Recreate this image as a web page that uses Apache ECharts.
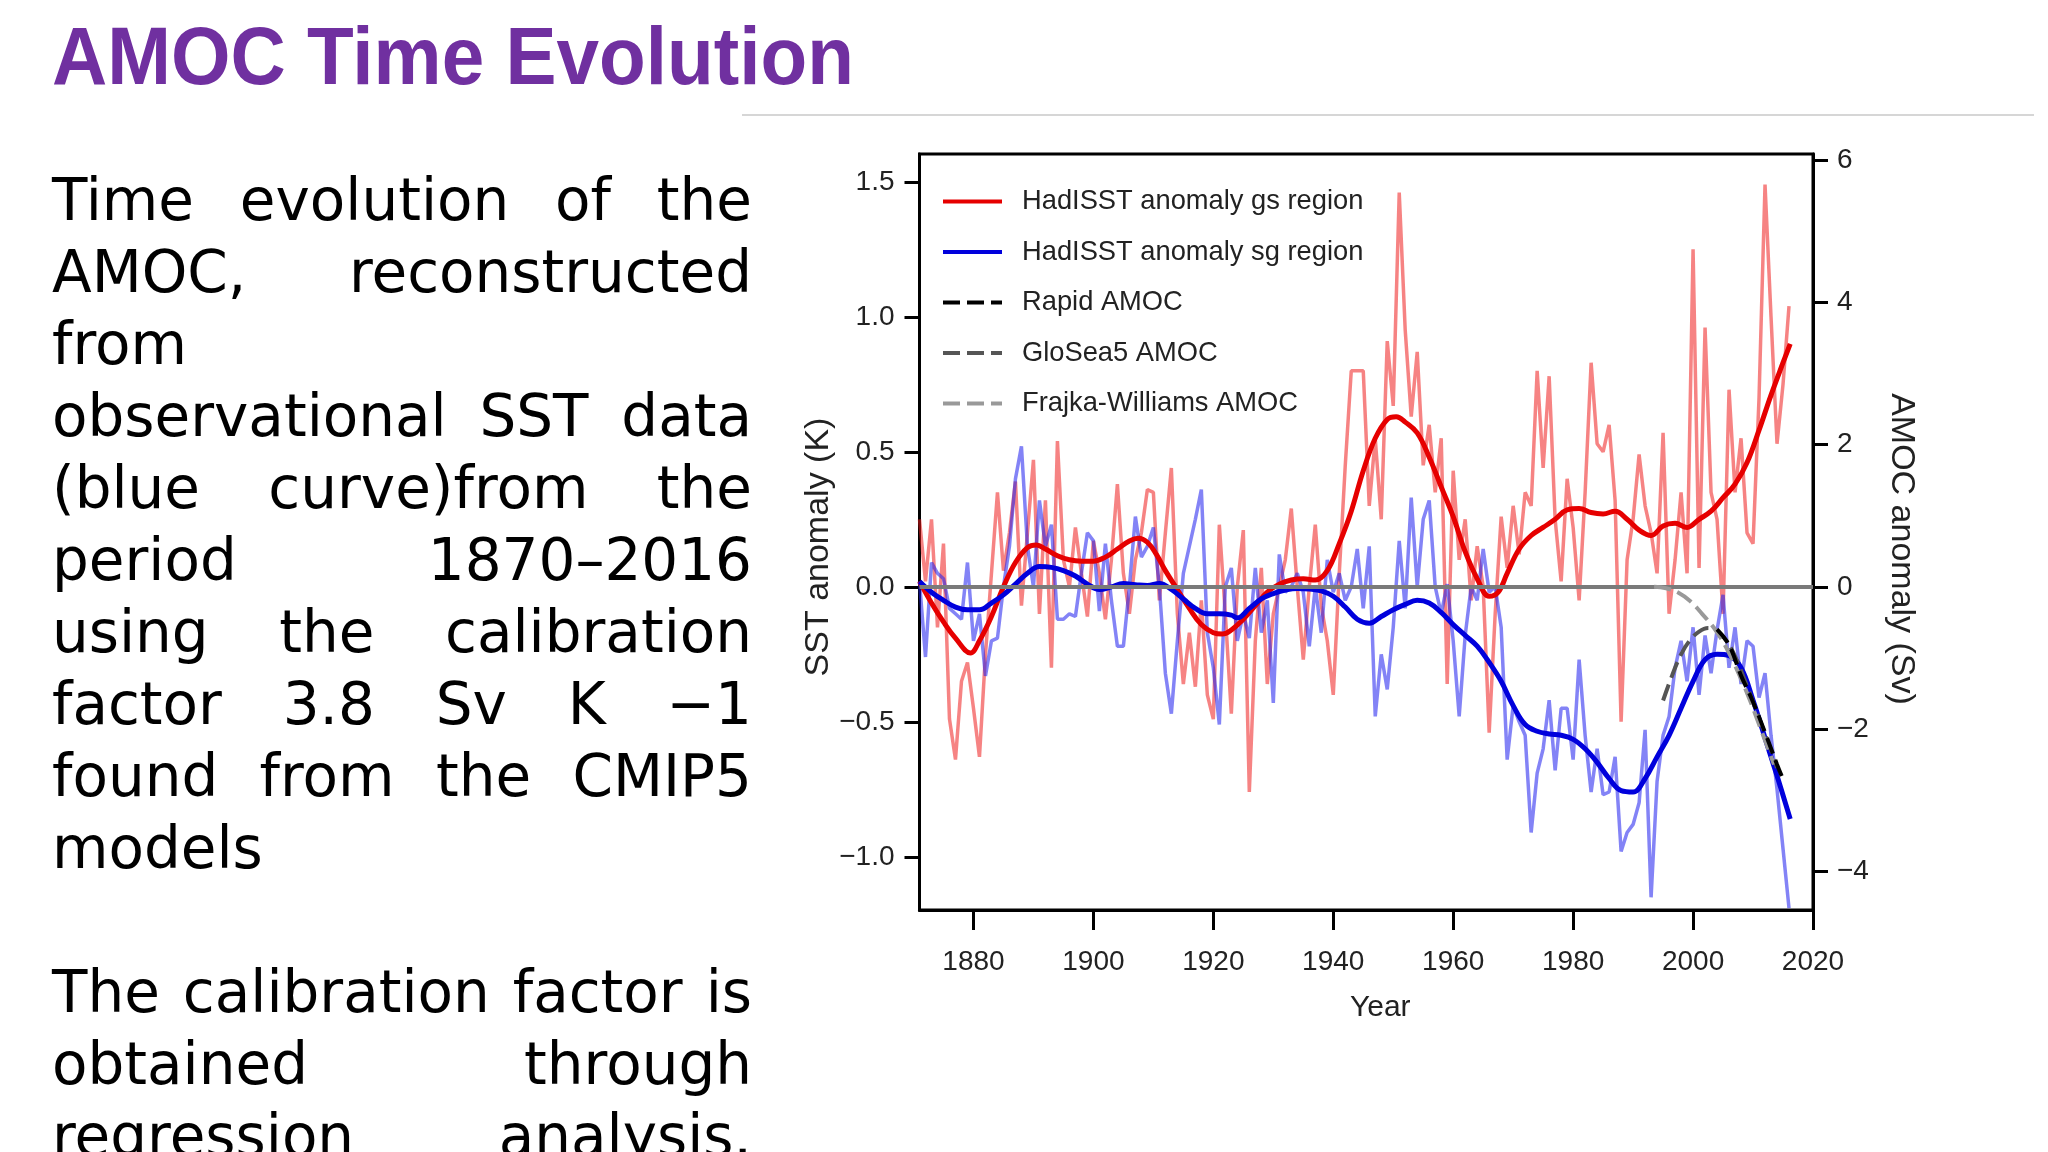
<!DOCTYPE html>
<html>
<head>
<meta charset="utf-8">
<script src="https://cdn.jsdelivr.net/npm/echarts@6/dist/echarts.min.js"></script>
<style>
html,body{margin:0;padding:0;background:#fff;}
#page{position:relative;width:2048px;height:1152px;overflow:hidden;background:#fff;}
#chart{position:absolute;left:0;top:0;width:2048px;height:1152px;}
#title{position:absolute;left:52px;top:15px;font-family:'Liberation Sans',Arial,sans-serif;font-weight:bold;font-size:82px;line-height:82px;color:#7030a0;transform-origin:left top;transform:scaleX(0.933);white-space:nowrap;z-index:2;}
#rule{position:absolute;left:742px;top:114px;width:1292px;height:2px;background:#d6d6d6;z-index:2;}
#text{position:absolute;left:52px;top:164px;width:700px;font-family:'DejaVu Sans',sans-serif;font-size:58px;line-height:72px;color:#000;z-index:2;}
#text div{width:700px;height:72px;}
.j{text-align:justify;text-align-last:justify;}
.l{text-align:left;}
</style>
</head>
<body>
<div id="page">
  <div id="chart"></div>
  <div id="title">AMOC Time Evolution</div>
  <div id="rule"></div>
  <div id="text">
    <div class="j">Time evolution of the</div>
    <div class="j">AMOC, reconstructed</div>
    <div class="l">from</div>
    <div class="j">observational SST data</div>
    <div class="j">(blue curve)from the</div>
    <div class="j">period 1870–2016</div>
    <div class="j">using the calibration</div>
    <div class="j">factor 3.8 Sv K −1</div>
    <div class="j">found from the CMIP5</div>
    <div class="l">models</div>
    <div class="l">&nbsp;</div>
    <div class="j">The calibration factor is</div>
    <div class="j">obtained through</div>
    <div class="j">regression analysis.</div>
  </div>
</div>
<script>
// ---------- data ----------
const years = [1871,1872,1873,1874,1875,1876,1877,1878,1879,1880,
1881,1882,1883,1884,1885,1886,1887,1888,1889,1890,
1891,1892,1893,1894,1895,1896,1897,1898,1899,1900,
1901,1902,1903,1904,1905,1906,1907,1908,1909,1910,
1911,1912,1913,1914,1915,1916,1917,1918,1919,1920,
1921,1922,1923,1924,1925,1926,1927,1928,1929,1930,
1931,1932,1933,1934,1935,1936,1937,1938,1939,1940,
1941,1942,1943,1944,1945,1946,1947,1948,1949,1950,
1951,1952,1953,1954,1955,1956,1957,1958,1959,1960,
1961,1962,1963,1964,1965,1966,1967,1968,1969,1970,
1971,1972,1973,1974,1975,1976,1977,1978,1979,1980,
1981,1982,1983,1984,1985,1986,1987,1988,1989,1990,
1991,1992,1993,1994,1995,1996,1997,1998,1999,2000,
2001,2002,2003,2004,2005,2006,2007,2008,2009,2010,
2011,2012,2013,2014,2015,2016];

// HadISST anomaly, gs region (annual, K)
const gsAnnual = [0.25,0.02,0.25,-0.15,0.16,-0.49,-0.64,-0.35,-0.28,-0.45,
-0.63,-0.25,0.05,0.35,0.06,0.20,0.39,-0.07,0.20,0.47,
-0.10,0.32,-0.30,0.54,0.10,0.00,0.22,0.05,-0.11,0.17,
0.05,-0.12,0.10,0.38,0.05,-0.10,0.10,0.20,0.36,0.35,
-0.05,0.20,0.44,-0.10,-0.36,-0.17,-0.37,-0.05,-0.40,-0.49,
0.23,-0.10,-0.47,0.00,0.21,-0.76,-0.20,0.07,-0.36,-0.10,
0.00,0.10,0.29,0.00,-0.27,0.00,0.23,-0.07,-0.20,-0.40,
0.05,0.45,0.80,0.80,0.80,0.30,0.55,0.25,0.91,0.67,
1.46,0.95,0.63,0.87,0.45,0.60,0.35,0.55,-0.36,0.43,
0.10,0.25,-0.05,0.15,0.00,-0.54,-0.10,0.26,0.07,0.30,
0.12,0.35,0.30,0.80,0.44,0.78,0.25,0.02,0.40,0.22,
-0.05,0.35,0.83,0.53,0.50,0.60,0.32,-0.50,0.10,0.25,
0.49,0.30,0.20,0.05,0.57,-0.10,0.10,0.35,0.05,1.25,
0.07,0.96,0.35,0.25,-0.10,0.73,0.35,0.55,0.20,0.16,
0.70,1.49,1.00,0.53,0.75,1.04];

// HadISST anomaly, sg region (annual, K)
const sgAnnual = [0.02,-0.26,0.09,0.05,0.03,-0.08,-0.10,-0.12,0.09,-0.20,
-0.10,-0.33,-0.20,-0.19,0.00,0.15,0.40,0.52,0.15,0.00,
0.32,0.15,0.23,-0.12,-0.12,-0.10,-0.11,0.05,0.20,0.17,
-0.09,0.16,-0.05,-0.22,-0.22,0.00,0.26,0.11,0.15,0.22,
0.00,-0.32,-0.47,-0.20,0.05,0.15,0.25,0.36,-0.17,-0.30,
-0.51,0.00,0.07,-0.20,-0.10,-0.19,0.07,-0.17,-0.05,-0.43,
0.12,-0.02,0.00,0.05,-0.02,-0.22,0.00,-0.17,0.10,-0.02,
0.05,-0.05,0.00,0.14,-0.08,0.15,-0.48,-0.25,-0.38,-0.15,
0.17,-0.08,0.33,0.00,0.25,0.32,0.00,-0.10,0.01,-0.20,
-0.48,-0.18,0.00,-0.05,0.14,-0.02,0.00,-0.15,-0.64,-0.44,
-0.50,-0.55,-0.91,-0.69,-0.60,-0.42,-0.68,-0.45,-0.45,-0.64,
-0.27,-0.55,-0.76,-0.60,-0.77,-0.76,-0.63,-0.98,-0.91,-0.88,
-0.80,-0.53,-1.15,-0.72,-0.55,-0.48,-0.30,-0.20,-0.35,-0.15,
-0.40,-0.18,-0.32,-0.16,-0.03,-0.30,-0.15,-0.36,-0.20,-0.22,
-0.41,-0.32,-0.55,-0.75,-0.97,-1.19];

// smoothed curves [year, K]
const gsSmooth = [[1871,0.02],[1873,-0.06],[1875,-0.13],[1877,-0.19],[1879.5,-0.245],[1881,-0.2],[1883,-0.11],[1885,0.0],[1887,0.09],[1889,0.145],[1890.5,0.155],[1892,0.14],[1894,0.115],[1896,0.1],[1898,0.095],[1900,0.095],[1902,0.11],[1904,0.14],[1906,0.17],[1907.5,0.18],[1909,0.165],[1910.5,0.12],[1912,0.06],[1914,-0.01],[1916,-0.08],[1918,-0.14],[1920,-0.17],[1921.5,-0.175],[1923,-0.16],[1925,-0.12],[1927,-0.07],[1929,-0.02],[1931,0.01],[1933,0.025],[1935,0.03],[1937,0.025],[1939,0.06],[1941,0.16],[1943,0.28],[1945,0.43],[1947,0.55],[1949,0.62],[1950.5,0.63],[1952,0.61],[1954,0.57],[1956,0.48],[1958,0.37],[1960,0.26],[1962,0.13],[1964,0.03],[1966,-0.035],[1967.5,-0.02],[1969,0.05],[1971,0.14],[1973,0.19],[1975,0.22],[1977,0.25],[1979,0.285],[1981,0.29],[1983,0.275],[1985,0.27],[1987,0.28],[1989,0.25],[1991,0.21],[1993,0.19],[1995,0.225],[1997,0.235],[1999,0.22],[2001,0.25],[2003,0.28],[2005,0.33],[2007,0.38],[2009,0.46],[2011,0.58],[2013,0.71],[2015,0.83],[2016.2,0.9]];

const sgSmooth = [[1871,0.02],[1873,-0.02],[1875,-0.05],[1877,-0.075],[1879,-0.085],[1881,-0.085],[1883,-0.06],[1885,-0.03],[1887,0.01],[1889,0.05],[1891,0.075],[1893,0.072],[1895,0.06],[1897,0.04],[1899,0.01],[1901,-0.01],[1903,0.0],[1905,0.012],[1907,0.008],[1909,0.005],[1911,0.012],[1913,-0.01],[1915,-0.045],[1917,-0.08],[1919,-0.1],[1921,-0.1],[1923,-0.105],[1924,-0.115],[1926,-0.08],[1928,-0.045],[1930,-0.025],[1932,-0.012],[1934,-0.006],[1936,-0.008],[1938,-0.015],[1940,-0.035],[1942,-0.075],[1944,-0.12],[1946,-0.135],[1948,-0.11],[1950,-0.085],[1952,-0.065],[1954,-0.05],[1956,-0.06],[1958,-0.095],[1960,-0.14],[1962,-0.18],[1964,-0.22],[1966,-0.28],[1968,-0.35],[1970,-0.44],[1972,-0.51],[1974,-0.535],[1976,-0.545],[1978,-0.55],[1980,-0.565],[1982,-0.6],[1984,-0.65],[1986,-0.71],[1988,-0.755],[1990,-0.76],[1992,-0.71],[1994,-0.63],[1996,-0.55],[1998,-0.45],[2000,-0.35],[2002,-0.27],[2004,-0.25],[2006,-0.255],[2008,-0.3],[2010,-0.42],[2012,-0.56],[2014,-0.7],[2016.2,-0.86]];

// AMOC estimates [year, Sv]
const rapidAmoc = [[2004,-0.6],[2006,-0.82],[2008,-1.25],[2010,-1.62],[2012,-2.05],[2014,-2.5],[2015.2,-2.75]];
const gloSea5Amoc = [[1995,-1.6],[1996.5,-1.25],[1998,-0.95],[1999.5,-0.75],[2001,-0.63],[2002.5,-0.58],[2004,-0.62],[2005.5,-0.75],[2007,-0.98],[2009,-1.4],[2011,-1.85],[2013,-2.3],[2014,-2.55]];
const frajkaWilliamsAmoc = [[1993.5,0.0],[1995.5,-0.02],[1997.5,-0.08],[1999.5,-0.2],[2001.5,-0.38],[2003.5,-0.58],[2005.5,-0.85],[2007.5,-1.2],[2009.5,-1.6],[2011.5,-2.05],[2013.5,-2.5]];

// ticks
const xTicks = [1880,1900,1920,1940,1960,1980,2000,2020];
const sstTicks = [-1.0,-0.5,0.0,0.5,1.0,1.5];
const amocTicks = [-4,-2,0,2,4,6];
const legendNames = ['HadISST anomaly gs region','HadISST anomaly sg region','Rapid AMOC','GloSea5 AMOC','Frajka-Williams AMOC'];

// ---------- chart ----------
const FONT = "'Liberation Sans',Arial,sans-serif";
const fmt = d => v => (v < 0 ? '\u2212' : '') + Math.abs(v).toFixed(d);
const K2SV = 3.8;
const yMin = -1.197, yMax = 1.603;
const NOFILL = 'rgba(0,0,0,0)';

const chart = echarts.init(document.getElementById('chart'), null, {renderer:'canvas'});
const axisLineStyle = {color:'#000', width:3};
const option = {
  animation: false,
  grid: {left:919.5, right:235, top:154, bottom:242, show:true, borderColor:'#000', borderWidth:3, backgroundColor:'transparent'},
  legend: {
    orient:'vertical', left:941, top:188, padding:0,
    itemWidth:59, itemHeight:14, itemGap:23.5,
    data: legendNames, selectedMode:false,
    lineStyle:{width:4},
    itemStyle:{opacity:0},
    textStyle:{fontFamily:FONT, fontSize:27.3, color:'#222', padding:[0,0,0,15]}
  },
  xAxis: {
    type:'value', min:1871, max:2020,
    axisLine:{show:true, onZero:false, lineStyle:axisLineStyle},
    axisTick:{show:true, length:20, lineStyle:{color:'#000', width:3}, customValues:xTicks},
    axisLabel:{customValues:xTicks, formatter:v => String(v), fontFamily:FONT, fontSize:28, color:'#222', margin:38},
    splitLine:{show:false},
    name:'Year', nameLocation:'middle', nameGap:83,
    nameTextStyle:{fontFamily:FONT, fontSize:30, color:'#222', padding:[0,0,0,28]}
  },
  yAxis: [{
    type:'value', min:yMin, max:yMax, position:'left',
    axisLine:{show:true, onZero:false, lineStyle:axisLineStyle},
    axisTick:{show:true, length:15, lineStyle:{color:'#000', width:3}, customValues:sstTicks},
    axisLabel:{customValues:sstTicks, formatter:fmt(1), fontFamily:FONT, fontSize:28, color:'#222', margin:25},
    splitLine:{show:false},
    name:'SST anomaly (K)', nameLocation:'middle', nameGap:70, nameRotate:90,
    nameTextStyle:{fontFamily:FONT, fontSize:34, color:'#222', padding:[0,30,0,0]}
  },{
    type:'value', min:yMin*K2SV, max:yMax*K2SV, position:'right',
    axisLine:{show:true, onZero:false, lineStyle:axisLineStyle},
    axisTick:{show:true, length:15, lineStyle:{color:'#000', width:3}, customValues:amocTicks},
    axisLabel:{customValues:amocTicks, formatter:fmt(0), fontFamily:FONT, fontSize:28, color:'#222', margin:24},
    splitLine:{show:false},
    name:'AMOC anomaly (Sv)', nameLocation:'middle', nameGap:71, nameRotate:-90,
    nameTextStyle:{fontFamily:FONT, fontSize:34, color:'#222', padding:[0,0,0,34]}
  }],
  series: [
    {name:'gs annual', type:'line', data:years.map((y,i)=>[y,gsAnnual[i]]), symbol:'none', z:1,
     lineStyle:{color:'rgba(238,30,30,0.55)', width:3.5}},
    {name:'sg annual', type:'line', data:years.map((y,i)=>[y,sgAnnual[i]]), symbol:'none', z:1,
     lineStyle:{color:'rgba(30,30,238,0.55)', width:3.5}},
    {name:'zero', type:'line', data:[], z:2,
     markLine:{silent:true, symbol:['none','none'], label:{show:false}, animation:false,
       lineStyle:{color:'#7a7a7a', width:4, type:'solid'}, data:[{yAxis:0}]}},
    {name:legendNames[0], type:'line', data:gsSmooth, smooth:0.4, symbol:'none', z:4,
     lineStyle:{color:'#e60000', width:5}, itemStyle:{color:NOFILL}},
    {name:legendNames[1], type:'line', data:sgSmooth, smooth:0.4, symbol:'none', z:4,
     lineStyle:{color:'#0000dc', width:5}, itemStyle:{color:NOFILL}},
    {name:legendNames[2], type:'line', yAxisIndex:1, data:rapidAmoc, smooth:0.4, symbol:'none', z:6,
     lineStyle:{color:'#000', width:4, type:[17,7]}, itemStyle:{color:NOFILL}},
    {name:legendNames[3], type:'line', yAxisIndex:1, data:gloSea5Amoc, smooth:0.4, symbol:'none', z:5,
     lineStyle:{color:'#555', width:4, type:[17,7]}, itemStyle:{color:NOFILL}},
    {name:legendNames[4], type:'line', yAxisIndex:1, data:frajkaWilliamsAmoc, smooth:0.4, symbol:'none', z:5,
     lineStyle:{color:'#999', width:4, type:[17,7]}, itemStyle:{color:NOFILL}}
  ]
};
chart.setOption(option);
</script>
</body>
</html>
